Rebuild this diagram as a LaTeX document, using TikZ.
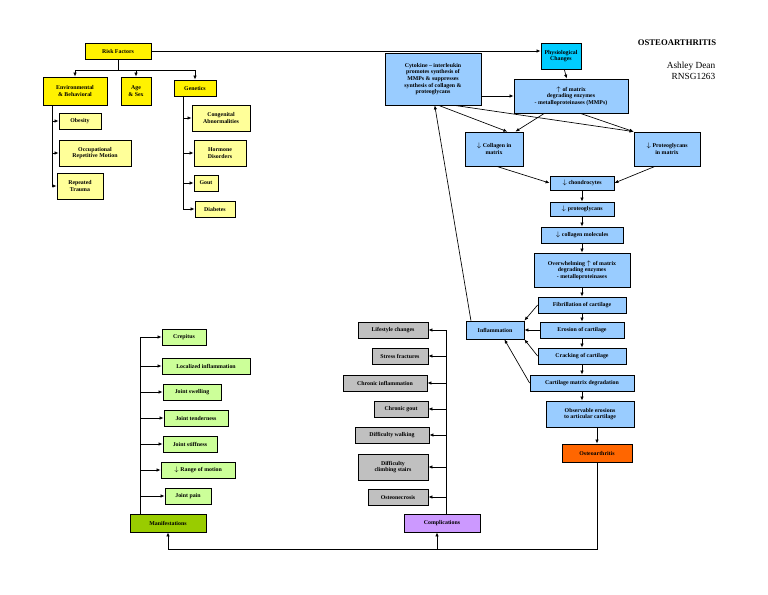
\documentclass[tikz,border=0pt]{standalone}
\usepackage{fontspec}
\setmainfont{Liberation Serif}
\usetikzlibrary{arrows.meta}
\definecolor{skyb}{RGB}{153,204,255}
\definecolor{physc}{RGB}{0,204,255}
\definecolor{manic}{RGB}{153,204,0}
\definecolor{manil}{RGB}{204,255,153}
\definecolor{riskl}{RGB}{255,255,153}
\definecolor{oac}{RGB}{255,102,0}
\definecolor{cplc}{RGB}{204,153,255}
\definecolor{gryc}{RGB}{192,192,192}
\tikzset{
  box/.style={draw, line width=0.6pt, align=center, inner sep=0.5pt, font=\fontsize{4.4}{5}\selectfont\bfseries},
  wh/.style 2 args={minimum width=#1*0.75pt, minimum height=#2*0.75pt},
  risk/.style={box, fill=yellow},
  rsub/.style={box, fill=riskl},
  stp/.style={box, fill=skyb},
  comp/.style={box, fill=gryc},
  mani/.style={box, fill=manil},
  arr/.style={-{Latex[length=3pt,width=2.5pt]}, line width=0.5pt},
  ln/.style={line width=0.5pt},
}
\begin{document}
\begin{tikzpicture}[x=0.75pt,y=-0.75pt]
\useasboundingbox (0,0) rectangle (768,594);
% risk factors
\node[risk, wh={66}{16}] (rf) at (118,51) {Risk Factors};
\node[risk, wh={64}{28}] (env) at (75,91) {Environmental\\ \& Behavioral};
\node[risk, wh={30}{28}] (age) at (136,91) {Age\\ \& Sex};
\node[risk, wh={42}{16}] (gen) at (195,88) {Genetics};
\node[rsub, wh={42}{16}] (obe) at (80,121) {Obesity};
\node[rsub, wh={72}{26}] (occ) at (95,153) {Occupational\\ Repetitive Motion};
\node[rsub, wh={46}{26}] (rep) at (80,186) {Repeated\\ Trauma};
\node[rsub, wh={58}{26}] (con) at (221,118) {Congenital\\ Abnormalities};
\node[rsub, wh={52}{26}] (hor) at (220,153) {Hormone\\ Disorders};
\node[rsub, wh={24}{16}] (gou) at (206,183) {Gout};
\node[rsub, wh={40}{16}] (dia) at (215,209) {Diabetes};
\draw[ln] (rf.south) -- (118,70);
\draw[ln] (75,70) -- (195,70);
\draw[arr] (75,70) -- (env.north);
\draw[arr] (136,70) -- (age.north);
\draw[arr] (195,70) -- (gen.north);
\draw[ln] (52,105) -- (52,186);
\foreach \n in {obe,occ,rep} \draw[arr] (52,0 |- \n.west) -- (\n.west);
\draw[ln] (183,96) -- (183,209);
\foreach \n in {con,hor,gou,dia} \draw[arr] (183,0 |- \n.west) -- (\n.west);
% physiological changes
\node[box, fill=physc, wh={40}{26}] (pc) at (561,56) {Physiological\\ Changes};
\draw[arr] (rf.east) -- (pc.west |- rf.east);
\node[stp, wh={96}{52}] (cyt) at (433,79) {Cytokine -- interleukin\\ promotes synthesis of\\ MMPs \& suppresses\\ synthesis of collagen \&\\ proteoglycans};
\node[stp, wh={114}{34}] (mmp) at (571,96) {$\uparrow$ of matrix\\ degrading enzymes\\ - metalloproteinases (MMPs)};
\draw[arr] (pc) -- (mmp);
\draw[arr] (cyt.east |- mmp) -- (mmp.west);
\node[stp, wh={58}{34}] (col) at (494,149) {$\downarrow$ Collagen in\\ matrix};
\node[stp, wh={66}{34}] (pro) at (667,149) {$\downarrow$ Proteoglycans\\ in matrix};
\draw[arr] ([xshift=-32]cyt.south east) -- ([xshift=10]col.north);
\draw[arr] ([xshift=-20]cyt.south east) -- (pro.north west);
\draw[arr] ([xshift=-20]mmp.south) -- ([xshift=-6]col.north east);
\draw[arr] ([xshift=-36]mmp.south east) -- (pro.north west);
\node[stp, wh={64}{14}] (cho) at (582,183) {$\downarrow$ chondrocytes};
\draw[arr] ([xshift=-20]col.south east) -- (cho.west);
\draw[arr] ([xshift=16]pro.south west) -- (cho.east);
\node[stp, wh={64}{14}] (pg) at (582,209) {$\downarrow$ proteoglycans};
\node[stp, wh={82}{16}] (cm) at (582,235) {$\downarrow$ collagen molecules};
\node[stp, wh={96}{34}] (ow) at (582,270) {Overwhelming $\uparrow$ of matrix\\ degrading enzymes\\ - metalloproteinases};
\node[stp, wh={88}{16}] (fib) at (582,305) {Fibrillation of cartilage};
\node[stp, wh={84}{16}] (ero) at (582,330) {Erosion of cartilage};
\node[stp, wh={88}{16}] (cra) at (582,356) {Cracking of cartilage};
\node[stp, wh={104}{16}] (deg) at (582,383) {Cartilage matrix degradation};
\node[stp, wh={88}{26}] (obs) at (590,414) {Observable erosions\\ to articular cartilage};
\node[box, fill=oac, wh={70}{18}] (oa) at (597,453) {Osteoarthritis};
\draw[arr] (cho) -- (pg);
\draw[arr] (pg) -- (cm);
\draw[arr] (cm) -- (ow);
\draw[arr] (ow) -- (fib);
\draw[arr] (fib) -- (ero);
\draw[arr] (ero) -- (cra);
\draw[arr] (cra) -- (deg);
\draw[arr] (582,0 |- deg.south) -- (582,0 |- obs.north);
\draw[arr] (obs.south -| oa) -- (oa.north);
% inflammation
\node[stp, wh={58}{18}] (inf) at (495,330) {Inflammation};
\draw[arr] (fib.west) -- (inf.north east);
\draw[arr] (ero.west) -- (inf.east);
\draw[arr] (cra.west) -- (inf.south east);
\draw[arr] (deg.west) -- ([xshift=-15]inf.south east);
\draw[arr] ([xshift=4]inf.north west) -- ([xshift=-35]cyt.south east);
% complications
\node[box, fill=cplc, wh={76}{18}] (cpl) at (442,523) {Complications};
\node[comp, wh={70}{16}] (c1) at (393,330) {Lifestyle changes};
\node[comp, wh={56}{16}] (c2) at (400,356) {Stress fractures};
\node[comp, wh={84}{16}] (c3) at (385,383) {Chronic inflammation};
\node[comp, wh={54}{16}] (c4) at (401,409) {Chronic gout};
\node[comp, wh={74}{16}] (c5) at (392,435) {Difficulty walking};
\node[comp, wh={70}{26}] (c6) at (393,467) {Difficulty\\ climbing stairs};
\node[comp, wh={60}{16}] (c7) at (398,497) {Osteonecrosis};
\draw[ln] (446,0 |- cpl.north) -- (446,330);
\foreach \n in {c1,c2,c3,c4,c5,c6,c7} \draw[arr] (446,0 |- \n.east) -- (\n.east);
% manifestations
\node[box, fill=manic, wh={76}{18}] (man) at (168,523) {Manifestations};
\node[mani, wh={44}{16}] (m1) at (184,337) {Crepitus};
\node[mani, wh={88}{16}] (m2) at (206,366) {Localized inflammation};
\node[mani, wh={58}{16}] (m3) at (192,392) {Joint swelling};
\node[mani, wh={64}{16}] (m4) at (196,418) {Joint tenderness};
\node[mani, wh={54}{16}] (m5) at (190,444) {Joint stiffness};
\node[mani, wh={74}{16}] (m6) at (198,470) {$\downarrow$ Range of motion};
\node[mani, wh={46}{16}] (m7) at (188,496) {Joint pain};
\draw[ln] (140,0 |- man.north) -- (140,337);
\foreach \n in {m1,m2,m3,m4,m5,m6,m7} \draw[arr] (140,0 |- \n.west) -- (\n.west);
% outcome loop
\coordinate (lp) at (597,549);
\draw[ln] (oa.south) -- (lp) -- (168,549);
\draw[arr] (168,549) -- (man.south);
\draw[arr] (437,549) -- (437,0 |- cpl.south);
% header
\node[font=\fontsize{6.5}{7}\selectfont\bfseries] (ttl) at (677,43) {OSTEOARTHRITIS};
\node[font=\fontsize{7}{8.5}\selectfont, align=right, anchor=north east] (auth) at (720,57) {Ashley Dean\\ RNSG1263};
\end{tikzpicture}
\end{document}
